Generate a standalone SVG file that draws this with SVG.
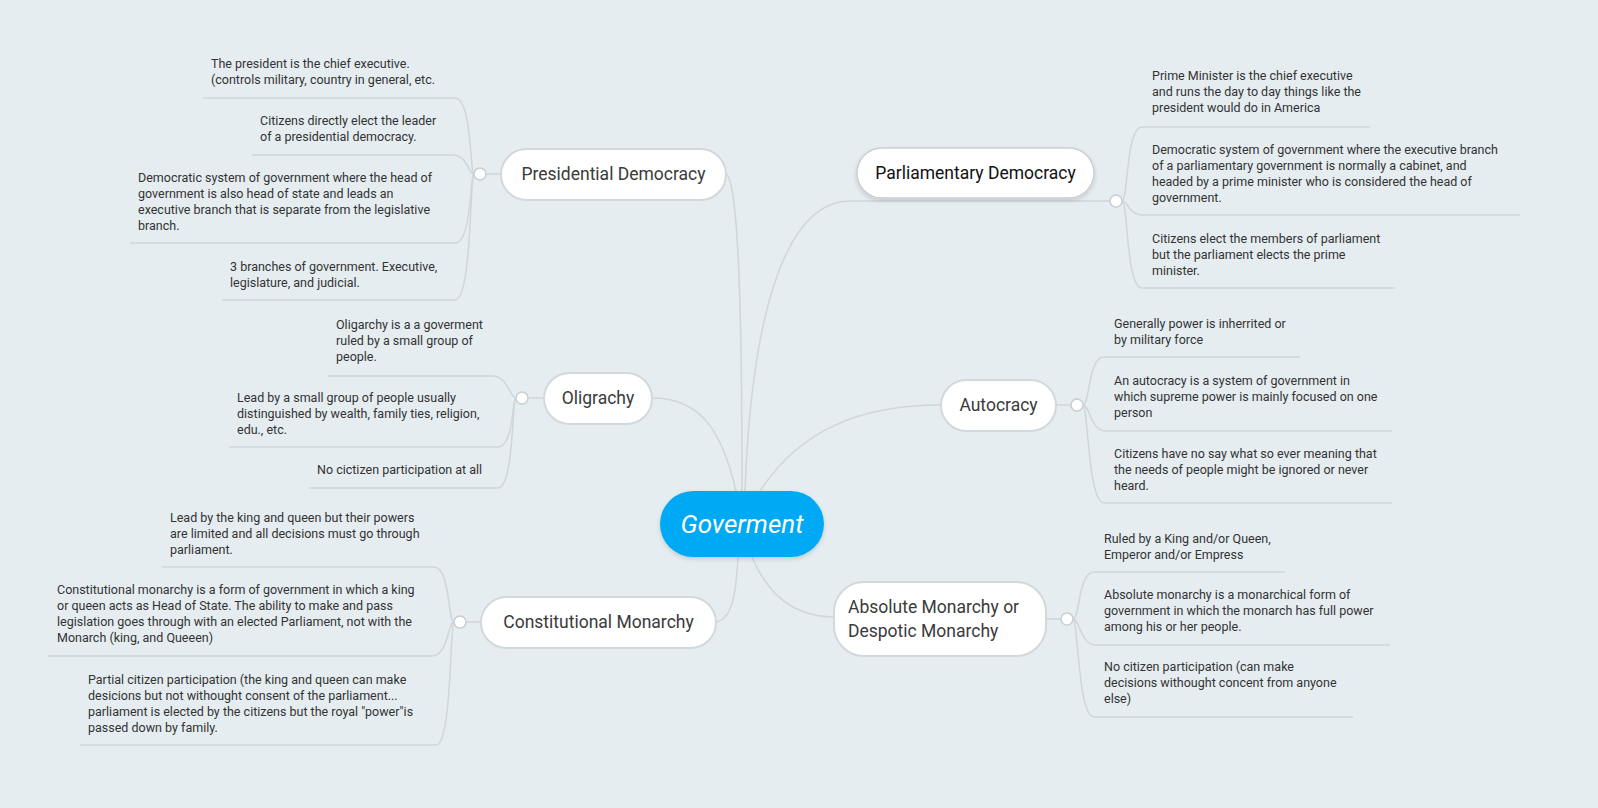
<svg xmlns="http://www.w3.org/2000/svg" width="1598" height="808" viewBox="0 0 1598 808">
<defs>
<filter id="sh" x="-20%" y="-20%" width="140%" height="150%"><feDropShadow dx="0" dy="2" stdDeviation="2" flood-color="#000" flood-opacity="0.15"/></filter>
<style>
.c{fill:none;stroke:#d0d6da;stroke-width:1.5}
.n{fill:#fff;stroke:#d3d8db;stroke-width:2}
.nt{font-family:Roboto,"Liberation Sans",sans-serif;font-size:17.5px;fill:#3a3a3a}
.lt{font-family:Roboto,"Liberation Sans",sans-serif;font-size:12.5px;fill:#333}
.j{fill:#fff;stroke:#c8ced2;stroke-width:1.5}
</style>
</defs>
<rect width="1598" height="808" fill="#e5edf1"/>
<g id="connectors">
<path class="c" d="M742,491 C742,300 738,180 726,174"/>
<path class="c" d="M652,398 C700,398 722,430 736,491"/>
<path class="c" d="M716,622 C730,620 736,600 738,557"/>
<path class="c" d="M745,491 C752,300 790,201 850,201 L1110,201"/>
<path class="c" d="M760,491 C800,430 860,405 941,405"/>
<path class="c" d="M752,557 C770,600 800,617 834,617"/>
<path class="c" d="M1046,619 H1061 M1056,405 H1071 M726,174 H486 M544,398 H528 M481,622 H466"/>
<!-- Presidential leaves -->
<path class="c" d="M474,174 C470,174 472,98 455,98 H203"/>
<path class="c" d="M474,174 C468,174 468,155 452,155 H252"/>
<path class="c" d="M474,174 C470,174 472,243 455,243 H130"/>
<path class="c" d="M474,174 C470,174 472,300 455,300 H222"/>
<!-- Oligrachy leaves -->
<path class="c" d="M516,398 C510,398 508,376 492,376 H328"/>
<path class="c" d="M516,398 C512,398 514,447 498,447 H229"/>
<path class="c" d="M516,398 C512,398 514,488 498,488 H309"/>
<!-- Constitutional leaves -->
<path class="c" d="M454,622 C448,622 450,567 434,567 H162"/>
<path class="c" d="M454,622 C448,622 448,656 432,656 H48"/>
<path class="c" d="M454,622 C450,622 452,745 436,745 H80"/>
<!-- Parliamentary leaves -->
<path class="c" d="M1122,201 C1128,201 1126,127 1142,127 H1370"/>
<path class="c" d="M1122,201 C1128,201 1128,215 1144,215 H1520"/>
<path class="c" d="M1122,201 C1128,201 1126,288 1142,288 H1395"/>
<!-- Autocracy leaves -->
<path class="c" d="M1083,405 C1090,405 1088,357 1104,357 H1300"/>
<path class="c" d="M1083,405 C1090,405 1090,431 1106,431 H1392"/>
<path class="c" d="M1083,405 C1088,405 1088,503 1104,503 H1392"/>
<!-- Absolute leaves -->
<path class="c" d="M1073,619 C1080,619 1078,572 1094,572 H1285"/>
<path class="c" d="M1073,619 C1080,619 1080,645 1096,645 H1390"/>
<path class="c" d="M1073,619 C1078,619 1078,717 1094,717 H1353"/>
</g>
<g id="junctions">
<circle class="j" cx="480" cy="174" r="6"/>
<circle class="j" cx="522" cy="398" r="6"/>
<circle class="j" cx="460" cy="622" r="6"/>
<circle class="j" cx="1116" cy="201" r="6"/>
<circle class="j" cx="1077" cy="405" r="6"/>
<circle class="j" cx="1067" cy="619" r="6"/>
</g>
<g id="center">
<rect x="660" y="491" width="164" height="66" rx="33" fill="#03a9f4" filter="url(#sh)"/>
<text x="742" y="533" text-anchor="middle" font-family="Roboto,'Liberation Sans',sans-serif" font-size="26" font-style="italic" fill="#fff">Goverment</text>
</g>
<g id="presidential">
<rect class="n" x="501" y="149" width="225" height="51" rx="25.5"/>
<text class="nt" x="613.5" y="180" text-anchor="middle">Presidential Democracy</text>
</g>
<g id="oligrachy">
<rect class="n" x="544" y="373" width="108" height="51" rx="25.5"/>
<text class="nt" x="598" y="404" text-anchor="middle">Oligrachy</text>
</g>
<g id="constitutional">
<rect class="n" x="481" y="597" width="235" height="51" rx="25.5"/>
<text class="nt" x="598.5" y="628" text-anchor="middle">Constitutional Monarchy</text>
</g>
<g id="parliamentary">
<rect x="857" y="148" width="237" height="50" rx="25" fill="#fff" stroke="#c9cfd3" stroke-width="1.5" filter="url(#sh)"/>
<text class="nt" x="975.5" y="179" text-anchor="middle" style="fill:#111">Parliamentary Democracy</text>
</g>
<g id="autocracy">
<rect class="n" x="941" y="380" width="115" height="51" rx="25.5"/>
<text class="nt" x="998.5" y="411" text-anchor="middle">Autocracy</text>
</g>
<g id="absolute">
<rect class="n" x="834" y="582" width="212" height="74" rx="30"/>
<text class="nt" x="848" y="613">Absolute Monarchy or</text>
<text class="nt" x="848" y="637">Despotic Monarchy</text>
</g>
<g id="leaves">
<text class="lt" x="211" y="68">The president is the chief executive.</text>
<text class="lt" x="211" y="84">(controls military, country in general, etc.</text>
<text class="lt" x="260" y="125">Citizens directly elect the leader</text>
<text class="lt" x="260" y="141">of a presidential democracy.</text>
<text class="lt" x="138" y="182">Democratic system of government where the head of</text>
<text class="lt" x="138" y="198">government is also head of state and leads an</text>
<text class="lt" x="138" y="214">executive branch that is separate from the legislative</text>
<text class="lt" x="138" y="230">branch.</text>
<text class="lt" x="230" y="271">3 branches of government. Executive,</text>
<text class="lt" x="230" y="287">legislature, and judicial.</text>
<text class="lt" x="336" y="329">Oligarchy is a a goverment</text>
<text class="lt" x="336" y="345">ruled by a small group of</text>
<text class="lt" x="336" y="361">people.</text>
<text class="lt" x="237" y="402">Lead by a small group of people usually</text>
<text class="lt" x="237" y="418">distinguished by wealth, family ties, religion,</text>
<text class="lt" x="237" y="434">edu., etc.</text>
<text class="lt" x="317" y="474">No cictizen participation at all</text>
<text class="lt" x="170" y="522">Lead by the king and queen but their powers</text>
<text class="lt" x="170" y="538">are limited and all decisions must go through</text>
<text class="lt" x="170" y="554">parliament.</text>
<text class="lt" x="57" y="594">Constitutional monarchy is a form of government in which a king</text>
<text class="lt" x="57" y="610">or queen acts as Head of State. The ability to make and pass</text>
<text class="lt" x="57" y="626">legislation goes through with an elected Parliament, not with the</text>
<text class="lt" x="57" y="642">Monarch (king, and Queeen)</text>
<text class="lt" x="88" y="684">Partial citizen participation (the king and queen can make</text>
<text class="lt" x="88" y="700">desicions but not withought consent of the parliament...</text>
<text class="lt" x="88" y="716">parliament is elected by the citizens but the royal "power"is</text>
<text class="lt" x="88" y="732">passed down by family.</text>
<text class="lt" x="1152" y="80">Prime Minister is the chief executive</text>
<text class="lt" x="1152" y="96">and runs the day to day things like the</text>
<text class="lt" x="1152" y="112">president would do in America</text>
<text class="lt" x="1152" y="154">Democratic system of government where the executive branch</text>
<text class="lt" x="1152" y="170">of a parliamentary government is normally a cabinet, and</text>
<text class="lt" x="1152" y="186">headed by a prime minister who is considered the head of</text>
<text class="lt" x="1152" y="202">government.</text>
<text class="lt" x="1152" y="243">Citizens elect the members of parliament</text>
<text class="lt" x="1152" y="259">but the parliament elects the prime</text>
<text class="lt" x="1152" y="275">minister.</text>
<text class="lt" x="1114" y="328">Generally power is inherrited or</text>
<text class="lt" x="1114" y="344">by military force</text>
<text class="lt" x="1114" y="385">An autocracy is a system of government in</text>
<text class="lt" x="1114" y="401">which supreme power is mainly focused on one</text>
<text class="lt" x="1114" y="417">person</text>
<text class="lt" x="1114" y="458">Citizens have no say what so ever meaning that</text>
<text class="lt" x="1114" y="474">the needs of people might be ignored or never</text>
<text class="lt" x="1114" y="490">heard.</text>
<text class="lt" x="1104" y="543">Ruled by a King and/or Queen,</text>
<text class="lt" x="1104" y="559">Emperor and/or Empress</text>
<text class="lt" x="1104" y="599">Absolute monarchy is a monarchical form of</text>
<text class="lt" x="1104" y="615">government in which the monarch has full power</text>
<text class="lt" x="1104" y="631">among his or her people.</text>
<text class="lt" x="1104" y="671">No citizen participation (can make</text>
<text class="lt" x="1104" y="687">decisions withought concent from anyone</text>
<text class="lt" x="1104" y="703">else)</text>
</g>
</svg>
